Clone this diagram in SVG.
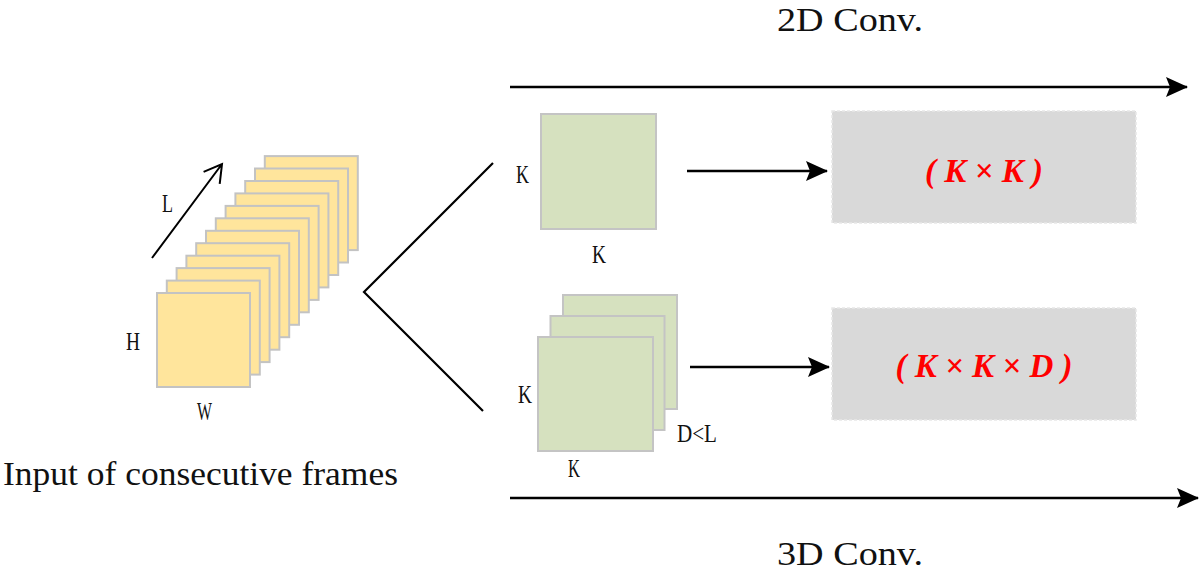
<svg xmlns="http://www.w3.org/2000/svg" width="1200" height="573" viewBox="0 0 1200 573">
<style>
.frame{fill:#ffe59c;stroke:#c3c3c3;stroke-width:2}
.kern{fill:#d6e1bf;stroke:#c4c4c4;stroke-width:2}
.out{fill:#d9d9d9;stroke:#e8e8e8;stroke-width:1.5;stroke-dasharray:3 2}
.lbl{font-family:"Liberation Serif",serif;font-size:25px;fill:#111}
.big{font-family:"Liberation Serif",serif;font-size:34px;fill:#111}
.red{font-family:"Liberation Serif",serif;font-size:33px;font-weight:bold;font-style:italic;fill:#ff0000;text-anchor:middle}
.ln{stroke:#000;stroke-width:2.5;fill:none}
</style>
<defs>
<marker id="ah" markerUnits="userSpaceOnUse" markerWidth="22" markerHeight="20" refX="21" refY="10" orient="auto">
<path d="M0,0 L22,10 L0,20 L4,10 z" fill="#000"/>
</marker>
</defs>

<g id="input-frames">
<rect class="frame" x="264.8" y="156.1" width="93" height="94"/>
<rect class="frame" x="255" y="168.5" width="93" height="94"/>
<rect class="frame" x="245.2" y="181" width="93" height="94"/>
<rect class="frame" x="235.4" y="193.4" width="93" height="94"/>
<rect class="frame" x="225.6" y="205.9" width="93" height="94"/>
<rect class="frame" x="215.8" y="218.3" width="93" height="94"/>
<rect class="frame" x="206" y="230.8" width="93" height="94"/>
<rect class="frame" x="196.2" y="243.2" width="93" height="94"/>
<rect class="frame" x="186.4" y="255.7" width="93" height="94"/>
<rect class="frame" x="176.6" y="268.1" width="93" height="94"/>
<rect class="frame" x="166.8" y="280.6" width="93" height="94"/>
<rect class="frame" x="157" y="293" width="93" height="94"/>
<text class="lbl" x="126" y="350" textLength="14" lengthAdjust="spacingAndGlyphs">H</text>
<text class="lbl" x="197" y="420" textLength="15" lengthAdjust="spacingAndGlyphs">W</text>
<text class="lbl" x="162" y="212" textLength="11" lengthAdjust="spacingAndGlyphs">L</text>
<path d="M152,258 L222,164 M203.6,171.9 L222,164 L219.7,183.9" fill="none" stroke="#000" stroke-width="2"/>
<text class="big" x="3" y="485" font-size="35.5" textLength="395" lengthAdjust="spacingAndGlyphs">Input of consecutive frames</text>
</g>

<g id="kernel-2d">
<rect class="kern" x="541" y="114" width="115" height="115"/>
<text class="lbl" x="516" y="183" textLength="13" lengthAdjust="spacingAndGlyphs">K</text>
<text class="lbl" x="592" y="263" textLength="14" lengthAdjust="spacingAndGlyphs">K</text>
</g>

<g id="kernel-3d">
<rect class="kern" x="563" y="295" width="114" height="114"/>
<rect class="kern" x="550.5" y="316" width="114" height="114"/>
<rect class="kern" x="538" y="337" width="115" height="114"/>
<text class="lbl" x="518" y="403" textLength="14" lengthAdjust="spacingAndGlyphs">K</text>
<text class="lbl" x="568" y="477" textLength="12" lengthAdjust="spacingAndGlyphs">K</text>
<text class="lbl" x="677" y="442" textLength="40" lengthAdjust="spacingAndGlyphs">D&lt;L</text>
</g>

<g id="output-2d">
<rect class="out" x="832" y="111" width="304" height="112"/>
<text class="red" x="984" y="182">( K × K )</text>
</g>

<g id="output-3d">
<rect class="out" x="832" y="308" width="304" height="112"/>
<text class="red" x="984" y="377">( K × K × D )</text>
</g>

<g id="labels">
<text class="big" x="777" y="31" textLength="146" lengthAdjust="spacingAndGlyphs">2D Conv.</text>
<text class="big" x="777" y="565" textLength="146" lengthAdjust="spacingAndGlyphs">3D Conv.</text>
</g>

<g id="connectors">
<path d="M493,163 L364,292 L483,411" fill="none" stroke="#000" stroke-width="2.2"/>
<line class="ln" x1="510" y1="87" x2="1187" y2="87" marker-end="url(#ah)"/>
<line class="ln" x1="510" y1="498" x2="1198" y2="498" marker-end="url(#ah)"/>
<line class="ln" x1="687" y1="171" x2="827" y2="171" marker-end="url(#ah)"/>
<line class="ln" x1="690" y1="367" x2="829" y2="367" marker-end="url(#ah)"/>
</g>
</svg>
